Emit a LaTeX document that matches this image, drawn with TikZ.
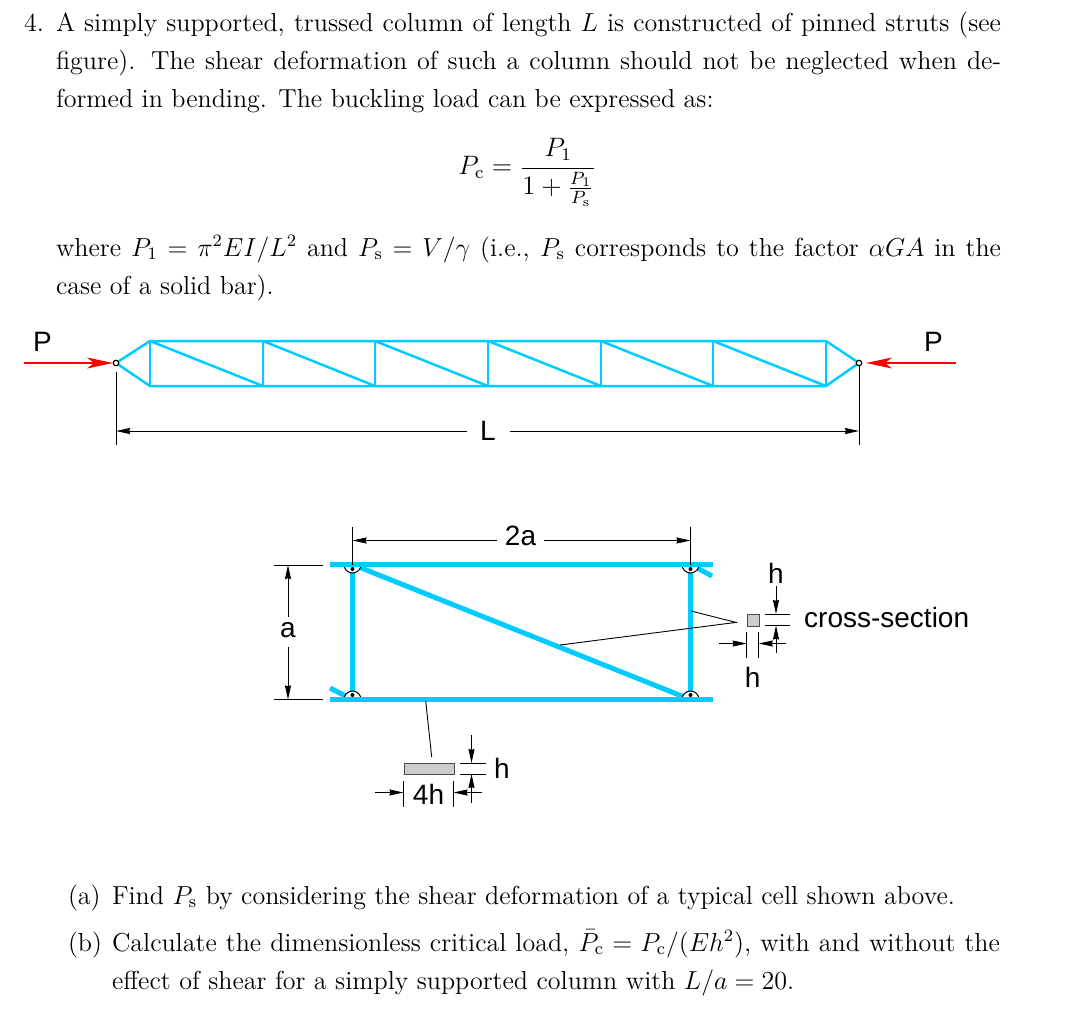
\documentclass[tikz,border=0pt,12pt]{standalone}
\usepackage{amsmath}
\usepackage{fontspec}
\newfontfamily\hv{Liberation Sans}
\usetikzlibrary{arrows.meta}
\definecolor{truss}{HTML}{00CCFF}
\definecolor{secgray}{HTML}{CCCCCC}
\tikzset{
  txt/.style={anchor=base west,inner sep=0pt,outer sep=0pt,scale=2.17,transform shape},
  lab/.style={inner sep=0pt,font=\hv\fontsize{28}{28}\selectfont},
  thin strut/.style={truss,line width=2.5pt,line join=round},
  thick strut/.style={truss,line width=5pt},
  dimline/.style={black,line width=0.9pt},
  dimarrow/.style={dimline,-{Stealth[length=14pt,width=6pt,inset=0.8pt]}},
  load/.style={red,line width=1.1pt,-{Stealth[length=26pt,width=11pt,inset=7pt]}},
  sect/.style={fill=secgray,draw=black!70,line width=1pt},
}
\newcommand{\uphingebg}[1]{%
  \fill[white] ([xshift=-8.5pt]#1) arc[start angle=180,end angle=0,radius=8.5pt] -- cycle;
  \draw[black,line width=1pt] ([xshift=-8.5pt]#1) arc[start angle=180,end angle=0,radius=8.5pt];
  \fill[black] ([yshift=4.5pt]#1) circle[radius=2pt];}
\newcommand{\downhingebg}[1]{%
  \fill[white] ([xshift=-8.5pt]#1) arc[start angle=180,end angle=360,radius=8.5pt] -- cycle;
  \draw[black,line width=1pt] ([xshift=-8.5pt]#1) arc[start angle=180,end angle=360,radius=8.5pt];
  \fill[black] ([yshift=-4.5pt]#1) circle[radius=2pt];}
\begin{document}
\begin{tikzpicture}[x=1pt,y=-1pt]
\useasboundingbox (0,0) rectangle (1067,1020);
% text
\node[txt] (n4) at (24,31) {4.};
\node[txt] (l1) at (56,31) {\hbox to 435.5pt{A simply supported, trussed column of length $L$ is constructed of pinned struts (see}};
\node[txt] (l2) at (56,69.7) {\hbox to 435.5pt{figure). The shear deformation of such a column should not be neglected when de-}};
\node[txt] (l3) at (56,107.7) {formed in bending. The buckling load can be expressed as:};
\node[anchor=center,inner sep=0pt,scale=2.22,transform shape] (eq) at (527.5,172.5) {$\displaystyle P_{\mathrm{c}}=\frac{P_1}{1+\frac{P_1}{P_{\mathrm{s}}}}$};
\node[txt] (l4) at (56,256) {\hbox to 435.5pt{where $P_1=\pi^2EI/L^2$ and $P_{\mathrm{s}}=V/\gamma$ (i.e., $P_{\mathrm{s}}$ corresponds to the factor $\alpha GA$ in the}};
\node[txt] (l5) at (56,294) {case of a solid bar).};
\node[txt] (a1) at (68,904) {(a)};
\node[txt] (a2) at (112,904) {Find $P_{\mathrm{s}}$ by considering the shear deformation of a typical cell shown above.};
\node[txt] (b1) at (68,951) {(b)};
\node[txt] (b2) at (112,951) {\hbox to 409.2pt{Calculate the dimensionless critical load, $\bar{P}_{\mathrm{c}}=P_{\mathrm{c}}/(Eh^2)$, with and without the}};
\node[txt] (b3) at (112,989) {effect of shear for a simply supported column with $L/a=20$.};
% truss
\coordinate (pl) at (116,363);
\coordinate (pr) at (859,363);
\foreach \i/\x in {0/150,1/263,2/375,3/488,4/601,5/713,6/826}{
  \coordinate (t\i) at (\x,341);
  \coordinate (b\i) at (\x,386);
  \draw[thin strut] (t\i) -- (b\i);
}
\draw[thin strut] (pl) -- (t0) -- (t6) -- (pr) -- (b6) -- (b0) -- cycle;
\foreach \i/\j in {0/1,1/2,2/3,3/4,4/5,5/6}{\draw[thin strut] (t\i) -- (b\j);}
\node[circle,draw=black,fill=white,line width=1.2pt,minimum size=5.5pt,inner sep=0pt] (pinl) at (pl) {};
\node[circle,draw=black,fill=white,line width=1.2pt,minimum size=5.5pt,inner sep=0pt] (pinr) at (pr) {};
% loads
\coordinate (ll) at (24,363);
\coordinate (lr) at (956,363);
\draw[load] (ll) -- (113,363);
\draw[load] (lr) -- (866,363);
\node[lab] (pa) at (42.5,342) {P};
\node[lab] (pb) at (933.5,342) {P};
% L dim
\draw[dimline] (116,372) -- (116,445);
\draw[dimline] (pinr) -- (859,445);
\node[lab] (ldim) at (488,430.5) {L};
\draw[dimarrow] (467,431) -- (116,431);
\draw[dimarrow] (510,431) -- (859,431);
% cell
\coordinate (tl) at (352.5,564.5);
\coordinate (tr) at (690.5,564.5);
\coordinate (bl) at (352.5,699.5);
\coordinate (br) at (690.5,699.5);
\draw[thick strut] (tl) -- (bl);
\draw[thick strut] (tr) -- (br);
\draw[thick strut] (tl) -- (br);
\draw[thick strut] (tr) -- (712,576);
\draw[thick strut] (bl) -- (330,688);
\downhingebg{tl}\downhingebg{tr}\uphingebg{bl}\uphingebg{br}
\draw[thick strut] (330,564.5) -- (713,564.5);
\draw[thick strut] (330,699.5) -- (713,699.5);
% 2a
\draw[dimline] (352.5,527) -- (tl);
\draw[dimline] (690.5,527) -- (tr);
\node[lab] (twoa) at (520.5,536) {2a};
\draw[dimarrow] (497,540.5) -- (352.5,540.5);
\draw[dimarrow] (544,540.5) -- (690.5,540.5);
% a
\draw[dimline] (274,565) -- (323,565);
\draw[dimline] (274,699.5) -- (323,699.5);
\node[lab] (adim) at (288,630) {a};
\draw[dimarrow] (288,617) -- (288,565);
\draw[dimarrow] (288,647) -- (288,699.5);
% chord section
\coordinate (lead1) at (431.7,757);
\draw[dimline] (425.7,701) -- (lead1);
\node[sect,minimum width=49.5pt,minimum height=11pt,inner sep=0pt,anchor=north west] (csec) at (404,763) {};
\draw[dimline] (460,763) -- (486,763);
\draw[dimline] (460,774) -- (486,774);
\draw[dimarrow] (471.5,735) -- (471.5,763);
\draw[dimarrow] (471.5,803) -- (471.5,774);
\node[lab] (hb) at (502,768) {h};
\draw[dimline] (403.5,781) -- (403.5,806.5);
\draw[dimline] (453.5,781) -- (453.5,806.5);
\draw[dimarrow] (375,792.5) -- (403.5,792.5);
\draw[dimarrow] (482,792.5) -- (453.5,792.5);
\node[lab] (fh) at (428.5,794) {4h};
% strut section
\coordinate (lead2) at (736,622.4);
\draw[dimline] (691,611) -- (lead2) -- (560,645);
\node[sect,minimum width=12pt,minimum height=11.5pt,inner sep=0pt,anchor=north west] (ssec) at (746.7,614) {};
\draw[dimline] (764.5,614) -- (789.5,614);
\draw[dimline] (764.5,625.5) -- (789.5,625.5);
\draw[dimarrow] (776,586) -- (776,614);
\draw[dimarrow] (776,653) -- (776,625.5);
\node[lab] (hu) at (776,573) {h};
\draw[dimline] (746.7,631.5) -- (746.7,658);
\draw[dimline] (758.7,631.5) -- (758.7,658);
\draw[dimarrow] (719,643.5) -- (746.7,643.5);
\draw[dimarrow] (786,643.5) -- (758.7,643.5);
\node[lab] (hl) at (752.7,677) {h};
\node[lab,anchor=west] (cs) at (804,617) {cross-section};
\end{tikzpicture}
\end{document}
